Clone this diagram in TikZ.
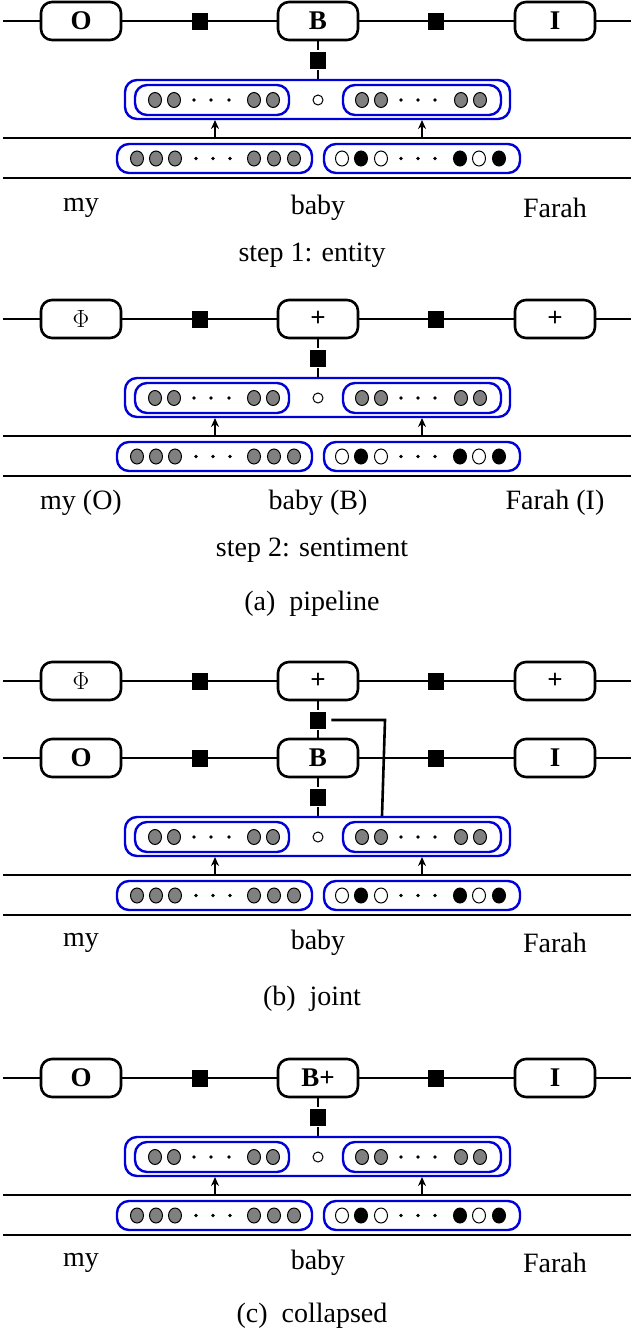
\documentclass[tikz,border=0pt]{standalone}
\usepackage{fontspec}
\setmainfont{Liberation Serif}
\usetikzlibrary{shapes.geometric,arrows.meta}
\begin{document}
\begin{tikzpicture}[x=1pt,y=-1pt,line width=2.6pt,
  lab/.style={draw,rounded corners=11pt,minimum width=80pt,minimum height=38pt,inner sep=0pt,font=\fontsize{27}{27}\selectfont\bfseries,fill=white},
  fac/.style={fill=black,draw=none,minimum width=16pt,minimum height=17pt,inner sep=0pt},
  bbox/.style={draw=blue!85!black,line width=2.4pt,rounded corners=12pt},
  gc/.style={ellipse,draw,line width=1pt,fill=gray,minimum width=13pt,minimum height=15pt,inner sep=0pt},
  wc/.style={gc,fill=white},
  kc/.style={gc,fill=black},
  dt/.style={circle,fill=black,inner sep=1.3pt},
  word/.style={font=\fontsize{28}{28}\selectfont},
  arr/.style={-{Stealth[length=9pt,width=8pt]},line width=2pt}]
\useasboundingbox (0,0) rectangle (634,1334);
\newcommand\mychain[5]{
  \draw (3,#1) -- (631,#1);
  \node[lab] (#2a) at (81,#1) {#3};
  \node[lab] (#2b) at (318,#1) {#4};
  \node[lab] (#2c) at (555,#1) {#5};
  \node[fac] (#2f1) at (200,#1) {};
  \node[fac] (#2f2) at (436,#1) {};
}
\newcommand\mylower[2]{
  \begin{scope}[yshift=-#1pt]
  \node[fac] (#2v) at (318,60) {};
  \draw (#2b.south) -- (#2v) -- (318,80);
  \draw[bbox] (125,80) rectangle (510,119);
  \draw[bbox] (135,85) rectangle (289,115);
  \draw[bbox] (343,85) rectangle (501,115);
  \node[wc,minimum width=10pt,minimum height=10pt] (#2m) at (318,100) {};
  \foreach \x in {155,174,254,273, 362,381,461,480} \node[gc] at (\x,100) {};
  \foreach \x in {194,211,229, 401,418,435} \node[dt] at (\x,100) {};
  \draw (3,138) -- (631,138);
  \draw (3,178) -- (631,178);
  \draw[bbox] (117,144) rectangle (312,173);
  \draw[bbox] (324,144) rectangle (520,173);
  \foreach \x in {137,156,175,254,274,294} \node[gc] at (\x,158.5) {};
  \foreach \x in {196,213,230, 401,418,435} \node[dt] at (\x,158.5) {};
  \node[wc] at (342,158.5) {}; \node[kc] at (361,158.5) {}; \node[wc] at (381,158.5) {};
  \node[kc] at (460,158.5) {}; \node[wc] at (479,158.5) {}; \node[kc] at (499,158.5) {};
  \draw[arr] (215,139) -- (215,120);
  \draw[arr] (422,139) -- (422,120);
  \end{scope}
}
\newcommand\mywords[5]{
  \node[word] (#1w1) at (81,#2) {#3};
  \node[word] (#1w2) at (318,#2) {#4};
  \node[word] (#1w3) at (555,#2) {#5};
}
\mychain{21}{p}{O}{B}{I}
\mylower{0}{p}
\mywords{p}{208}{my}{baby}{Farah}
\node[word] (c1) at (312,255) {step 1: entity};
\mychain{319}{q}{\normalfont $\Phi$}{+}{+}
\mylower{298}{q}
\mywords{q}{503}{my (O)}{baby (B)}{Farah (I)}
\node[word] (c2) at (312,550) {step 2: sentiment};
\node[word] (c3) at (312,604) {(a)\ \ pipeline};
\mychain{681}{r}{\normalfont $\Phi$}{+}{+}
\mychain{758}{s}{O}{B}{I}
\node[fac] (rv) at (318,720) {};
\draw (rb.south) -- (rv) -- (sb.north);
\coordinate (rk) at (385,720);
\coordinate (re) at (382,816);
\draw (rv.east) ++(4,0) -- (rk) -- (re);
\mylower{737}{s}
\mywords{s}{943}{my}{baby}{Farah}
\node[word] (c4) at (312,999) {(b)\ \ joint};
\mychain{1078}{t}{O}{B+}{I}
\mylower{1057}{t}
\mywords{t}{1263}{my}{baby}{Farah}
\node[word] (c5) at (312,1316) {(c)\ \ collapsed};
\end{tikzpicture}
\end{document}
